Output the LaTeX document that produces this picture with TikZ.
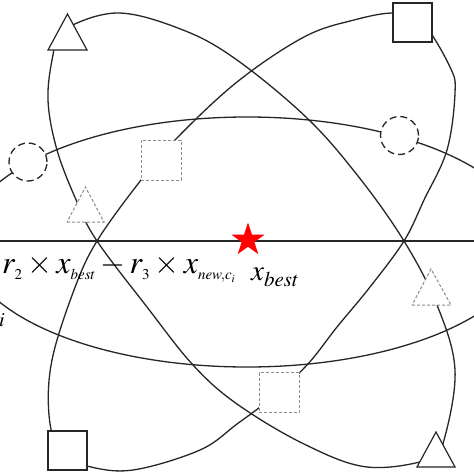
\documentclass[tikz,border=0pt]{standalone}
\usepackage{mathptmx}
\usetikzlibrary{shapes.geometric}
\DeclareMathSizes{32}{32}{15}{11}
\DeclareMathSizes{29}{29}{21}{15}
\newcommand\fbig{\fontsize{32}{36}\selectfont}
\newcommand\fmid{\fontsize{29}{33}\selectfont}
\newcommand\dsub[2]{_{\lower#1\hbox{$\scriptstyle #2$}}}
\begin{document}
\begin{tikzpicture}[x=1pt,y=-1pt,
  curve/.style={line width=1.3pt, draw=black!85},
  solidshape/.style={draw=black!85, line width=1.2pt, fill=white},
  ghost/.style={draw=black!45, line width=1pt, dash pattern=on 3pt off 2pt, fill=white},
  dcirc/.style={circle, draw=black!85, line width=1.3pt, dash pattern=on 7pt off 4pt, fill=white, inner sep=0pt, minimum size=38pt},
  solidsq/.style={rectangle, solidshape, inner sep=0pt, minimum size=39pt},
  ghostsq/.style={rectangle, ghost, inner sep=0pt, minimum size=40pt}]
\useasboundingbox (0,0) rectangle (474,474);
\fill[white] (0,0) rectangle (474,474);
\begin{scope}
\clip (0,0) rectangle (474,474);
% horizontal ellipse
\draw[curve] (247,242) ellipse [x radius=282, y radius=125];
% horizontal line
\coordinate (L) at (0,241);
\coordinate (R) at (474,241);
\draw[curve] (L) -- (R);
% ellipse with triangles
\draw[curve] plot[smooth cycle, tension=0.6] coordinates {
 (62,31) (117,13) (183,30) (237,60) (307,118) (358,176) (404,241) (437,305)
 (455,370) (444,440) (430,459) (367,467) (304,444) (237,404) (193,365)
 (147,307) (97,241) (77,202) (57,150) (48,100) (53,55)};
% ellipse with squares
\draw[curve] plot[smooth cycle, tension=0.6] coordinates {
 (354,20) (395,13) (422,22) (450,67) (455,93) (447,150) (424,200) (404,241)
 (370,287) (337,327) (307,365) (270,399) (237,424) (200,450) (133,470)
 (87,466) (60,452) (49,415) (52,360) (74,290) (97,241) (141,180) (175,140)
 (237,82) (304,37)};
\end{scope}
% triangles
\draw[solidshape] (48,50) -- (87,50) -- (67.5,14) -- cycle;
\draw[solidshape] (417,467) -- (455,467) -- (436,432) -- cycle;
\draw[ghost] (67,222) -- (104,222) -- (85.5,187) -- cycle;
\draw[ghost] (412,305) -- (451,305) -- (431,269) -- cycle;
% squares
\node[solidsq] (sqTR) at (412.5,22.5) {};
\node[solidsq] (sqBL) at (67.5,450.5) {};
\node[ghostsq] (gsqL) at (161,160) {};
\node[ghostsq] (gsqR) at (279,392.5) {};
% circles
\node[dcirc] (cL) at (28,162) {};
\node[dcirc] (cR) at (399.5,135.5) {};
% star
\node[star, star points=5, star point ratio=2.6, fill=red, draw=none, inner sep=0pt, minimum size=35pt] (best) at (248,240) {};
% texts
\node[anchor=base west, inner sep=0pt] (formula) at (2,273) {\fbig$r\dsub{2pt}{2}\times x\dsub{2pt}{best}-r\dsub{2pt}{3}\times x\dsub{2pt}{new,c_i}$};
\node[anchor=base west, inner sep=0pt] (xb) at (251,280) {\fmid$x\dsub{2pt}{best}$};
\node[anchor=base west, inner sep=0pt] (ci) at (-1,326) {\fontsize{20}{22}\selectfont$i$};
\end{tikzpicture}
\end{document}
